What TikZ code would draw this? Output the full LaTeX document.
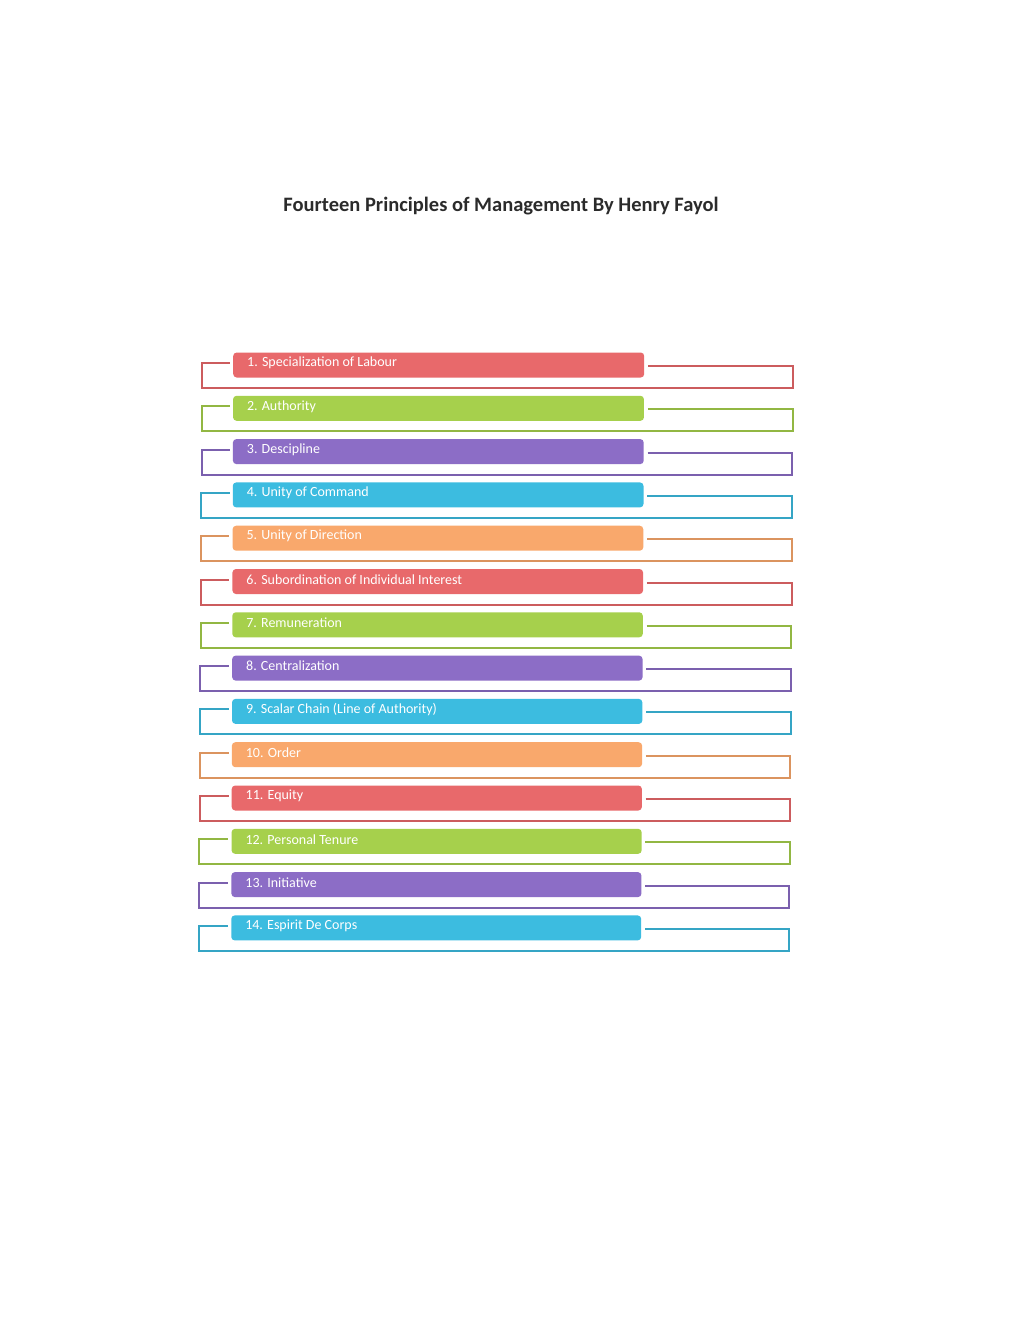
\documentclass[tikz,border=0pt]{standalone}
\usepackage{fontspec}
\setmainfont{Carlito}
\definecolor{cred}{HTML}{E8696B}
\definecolor{cgreen}{HTML}{A6D04C}
\definecolor{cpurple}{HTML}{8C6DC6}
\definecolor{ccyan}{HTML}{3CBCE0}
\definecolor{corange}{HTML}{F9A86C}
\definecolor{titlegrey}{HTML}{2B2B2B}
\tikzset{
  barbox/.style={fill=#1, draw=none, rounded corners=3.5pt, minimum height=25pt, inner sep=0pt, anchor=west},
  bracketline/.style={draw=#1!88!black, line width=2pt, line join=miter},
  bartext/.style={text=white, font=\fontsize{14}{16}\selectfont, anchor=west, inner sep=0pt}
}
\begin{document}
\begin{tikzpicture}[x=1pt,y=-1pt]
\useasboundingbox (0,0) rectangle (1024,1326);
\fill[white] (0,0) rectangle (1024,1326);
\node[font=\bfseries\fontsize{20.5}{24}\selectfont, text=titlegrey] (title) at (501,206) {Fourteen Principles of Management By Henry Fayol};
\foreach \i/\txt/\col in {
 1/{1. Specialization of Labour}/cred,
 2/{2. Authority}/cgreen,
 3/{3. Descipline}/cpurple,
 4/{4. Unity of Command}/ccyan,
 5/{5. Unity of Direction}/corange,
 6/{6. Subordination of Individual Interest}/cred,
 7/{7. Remuneration}/cgreen,
 8/{8. Centralization}/cpurple,
 9/{9. Scalar Chain (Line of Authority)}/ccyan,
 10/{10. Order}/corange,
 11/{11. Equity}/cred,
 12/{12. Personal Tenure}/cgreen,
 13/{13. Initiative}/cpurple,
 14/{14. Espirit De Corps}/ccyan} {
  \pgfmathsetmacro{\yc}{365+(\i-1)*43.3}
  \pgfmathsetmacro{\xl}{233-(\i-1)*0.15}
  \pgfmathsetmacro{\xr}{644-(\i-1)*0.23}
  \pgfmathsetmacro{\bl}{202-(\i-1)*0.23}
  \pgfmathsetmacro{\br}{793-(\i-1)*0.3}
  \pgfmathsetmacro{\bw}{\xr-\xl}
  \node[barbox=\col, minimum width=\bw pt] (bar\i) at (\xl,\yc) {};
  \node[bartext] (lab\i) at (\xl+14,\yc-2) {\txt};
  \coordinate (rs\i) at (\xr+4,\yc+1);
  \coordinate (rt\i) at (\br,\yc+1);
  \coordinate (rb\i) at (\br,\yc+23);
  \coordinate (lb\i) at (\bl,\yc+23);
  \coordinate (lt\i) at (\bl,\yc-2);
  \coordinate (le\i) at (\xl-3,\yc-2);
  \draw[bracketline=\col] (rs\i) -- (rt\i) -- (rb\i) -- (lb\i) -- (lt\i) -- (le\i);
}
\end{tikzpicture}
\end{document}
